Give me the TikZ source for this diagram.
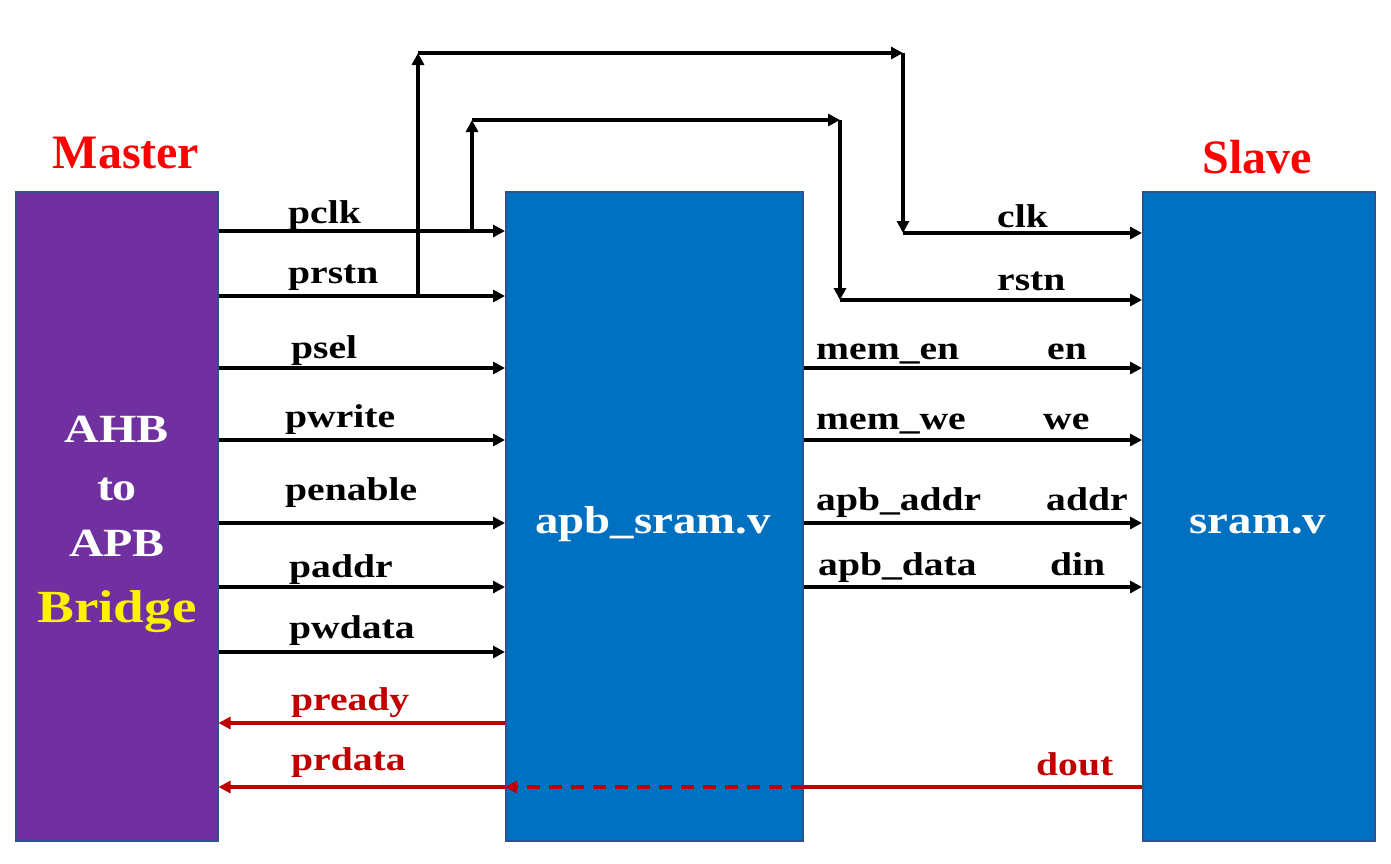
\documentclass[tikz,border=0pt]{standalone}
\usepackage{fontspec}
\setmainfont{Liberation Serif}
\newfontfamily\widefont[FakeStretch=1.2]{Liberation Serif}
\usetikzlibrary{arrows.meta}
\definecolor{bridgepurple}{RGB}{112,48,160}
\definecolor{blockblue}{RGB}{0,112,192}
\definecolor{edgeblue}{RGB}{47,82,143}
\definecolor{readred}{RGB}{192,0,0}

\begin{document}
\begin{tikzpicture}[x=1pt, y=-1pt,
	block/.style = {draw = edgeblue, line width = 1.5pt, anchor = north west, inner sep = 0pt, minimum height = 649pt},
	sig/.style = {line width = 3.6pt, -{Triangle[length = 12pt, width = 12pt]}},
	rsig/.style = {sig, color = readred},
	lbl/.style = {anchor = base west, inner sep = 0pt, font = \widefont\bfseries\fontsize{33}{33}\selectfont},
	rlbl/.style = {lbl, text = readred},
	title/.style = {anchor = base, inner sep = 0pt, text = red, font = \bfseries\fontsize{48}{48}\selectfont},
	inner/.style = {anchor = base, inner sep = 0pt, text = white, font = \widefont\bfseries\fontsize{#1}{#1}\selectfont}]
					\useasboundingbox (0,0) rectangle (1391,863);
					
					\node [block, fill = bridgepurple, minimum width = 202pt] (master) at (15,191) {};
					\node [block, fill = blockblue, minimum width = 297pt] (apb) at (505,191) {};
					\node [block, fill = blockblue, minimum width = 232pt] (sram) at (1142,191) {};
					
					\node [title] (mtitle) at (126,168) {Master};
					\node [title] (stitle) at (1257,173) {Slave};
					
					\node [inner = 40] (ahb) at (117,442) {AHB};
					\node [inner = 40] (to) at (117,500) {to};
					\node [inner = 40] (apbword) at (117,556) {APB};
					\node [inner = 46, text = yellow] (bridge) at (117,622) {Bridge};
					\node [inner = 39] (apbname) at (653,533) {apb\_sram.v};
					\node [inner = 39] (sramname) at (1258,533) {sram.v};
					
					\coordinate (prstnTap) at (418,296);
					\coordinate (prstnUp) at (418,53);
					\coordinate (prstnOver) at (903,53);
					\coordinate (clkStart) at (903,233);
					\coordinate (pclkTap) at (472,231);
					\coordinate (pclkUp) at (472,120);
					\coordinate (pclkOver) at (840,120);
					\coordinate (rstnStart) at (840,300);
					
					\begin{scope}
						\draw [sig] (master.east |- pclkTap) -- (apb.west |- pclkTap);
						\draw [sig] (master.east |- prstnTap) -- (apb.west |- prstnTap);
						\draw [sig] (master.east |- 0,368) -- (apb.west |- 0,368);
						\draw [sig] (master.east |- 0,440) -- (apb.west |- 0,440);
						\draw [sig] (master.east |- 0,523) -- (apb.west |- 0,523);
						\draw [sig] (master.east |- 0,587) -- (apb.west |- 0,587);
						\draw [sig] (master.east |- 0,652) -- (apb.west |- 0,652);
						\draw [rsig] (apb.west |- 0,723) -- (master.east |- 0,723);
						\draw [line width = 3.6pt, readred] (sram.west |- 0,787) -- (apb.east |- 0,787);
						\draw [rsig, dash pattern = on 13pt off 9pt] (apb.east |- 0,787) -- (apb.west |- 0,787);
						\draw [rsig] (apb.west |- 0,787) -- (master.east |- 0,787);
						
						\node [lbl] (lpclk) at (288,223) {pclk};
						\node [lbl] (lprstn) at (288,283) {prstn};
						\node [lbl] (lpsel) at (291,358) {psel};
						\node [lbl] (lpwrite) at (285,427) {pwrite};
						\node [lbl] (lpenable) at (285,500) {penable};
						\node [lbl] (lpaddr) at (289,577) {paddr};
						\node [lbl] (lpwdata) at (289,638) {pwdata};
						\node [rlbl] (lpready) at (291,710) {pready};
						\node [rlbl] (lprdata) at (291,770) {prdata};
					\end{scope}
					
					\begin{scope}
						\draw [sig] (prstnTap) -- (prstnUp);
						\draw [sig] (prstnUp) -- (prstnOver);
						\draw [sig] (prstnOver) -- (clkStart);
						\draw [sig] (clkStart) -- (sram.west |- clkStart);
						\draw [sig] (pclkTap) -- (pclkUp);
						\draw [sig] (pclkUp) -- (pclkOver);
						\draw [sig] (pclkOver) -- (rstnStart);
						\draw [sig] (rstnStart) -- (sram.west |- rstnStart);
						
						\draw [sig] (apb.east |- 0,368) -- (sram.west |- 0,368);
						\draw [sig] (apb.east |- 0,440) -- (sram.west |- 0,440);
						\draw [sig] (apb.east |- 0,523) -- (sram.west |- 0,523);
						\draw [sig] (apb.east |- 0,587) -- (sram.west |- 0,587);
						
						\node [lbl] (lclk) at (997,227) {clk};
						\node [lbl] (lrstn) at (997,290) {rstn};
						\node [lbl] (lmemen) at (816,359) {mem\_en};
						\node [lbl] (len) at (1047,359) {en};
						\node [lbl] (lmemwe) at (816,429) {mem\_we};
						\node [lbl] (lwe) at (1043,429) {we};
						\node [lbl] (lapbaddr) at (816,510) {apb\_addr};
						\node [lbl] (laddr) at (1046,510) {addr};
						\node [lbl] (lapbdata) at (818,575) {apb\_data};
						\node [lbl] (ldin) at (1050,575) {din};
						\node [rlbl] (ldout) at (1036,775) {dout};
					\end{scope}
				\end{tikzpicture}
\end{document}
